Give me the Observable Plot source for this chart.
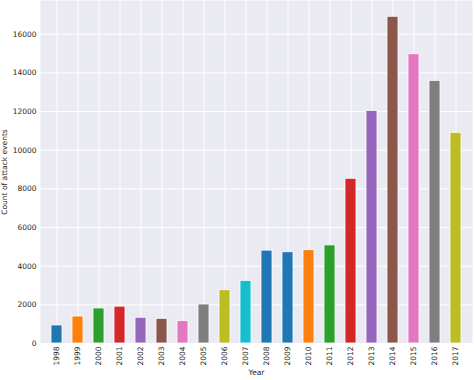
<!DOCTYPE html>
<html>
<head>
<meta charset="utf-8">
<script src="https://cdn.jsdelivr.net/npm/d3@7"></script>
<script src="https://cdn.jsdelivr.net/npm/@observablehq/plot@0.6"></script>
<style>
  html, body { margin: 0; padding: 0; background: #fff; }
  svg { display: block; }
</style>
</head>
<body>
<div id="chart"></div>
<script>
const years = ["1998","1999","2000","2001","2002","2003","2004","2005","2006","2007",
               "2008","2009","2010","2011","2012","2013","2014","2015","2016","2017"];
const counts = [934, 1395, 1814, 1906, 1333, 1278, 1166, 2017, 2758, 3242,
                4805, 4721, 4826, 5076, 8522, 12036, 16903, 14965, 13587, 10900];
const colors = ["#1f77b4","#ff7f0e","#2ca02c","#d62728","#9467bd","#8c564b","#e377c2","#7f7f7f","#bcbd22","#17becf",
                "#1f77b4","#1f77b4","#ff7f0e","#2ca02c","#d62728","#9467bd","#8c564b","#e377c2","#7f7f7f","#bcbd22"];
const yTicks = [0, 2000, 4000, 6000, 8000, 10000, 12000, 14000, 16000];

const data = years.map((y, i) => ({year: y, count: counts[i], color: colors[i]}));

const textColor = "#262626";
const chart = Plot.plot({
  width: 474,
  height: 380,
  marginTop: 0,
  marginLeft: 40,
  marginRight: 2,
  marginBottom: 37,
  style: {fontFamily: "DejaVu Sans", fontSize: "7.5px", color: textColor, background: "white"},
  x: {domain: years, paddingInner: 0.5, paddingOuter: 0.25, align: 0.5},
  y: {domain: [0, 17745]},
  marks: [
    Plot.frame({fill: "#eaeaf2", stroke: null}),
    Plot.ruleY(yTicks, {stroke: "white", strokeWidth: 1}),
    Plot.ruleX(years, {x: d => d, stroke: "white", strokeWidth: 1}),
    Plot.barY(data, {x: "year", y: "count", fill: "color", stroke: "white", strokeWidth: 0.8}),
    Plot.axisY(yTicks, {tickSize: 0, tickPadding: 4, label: null, tickFormat: d => String(d), fontSize: 7.5, fill: textColor}),
    Plot.axisX({tickSize: 0, tickPadding: 3, tickRotate: -90, label: null, fontSize: 7.5, fill: textColor}),
    Plot.text(["Year"], {frameAnchor: "bottom", textAnchor: "middle", dy: 31, fontSize: 7.5, fill: textColor}),
    Plot.text(["Count of attack events"], {frameAnchor: "left", textAnchor: "middle", rotate: -90, dx: -36, fontSize: 7.5, fill: textColor})
  ]
});
document.getElementById("chart").appendChild(chart);
</script>
</body>
</html>
